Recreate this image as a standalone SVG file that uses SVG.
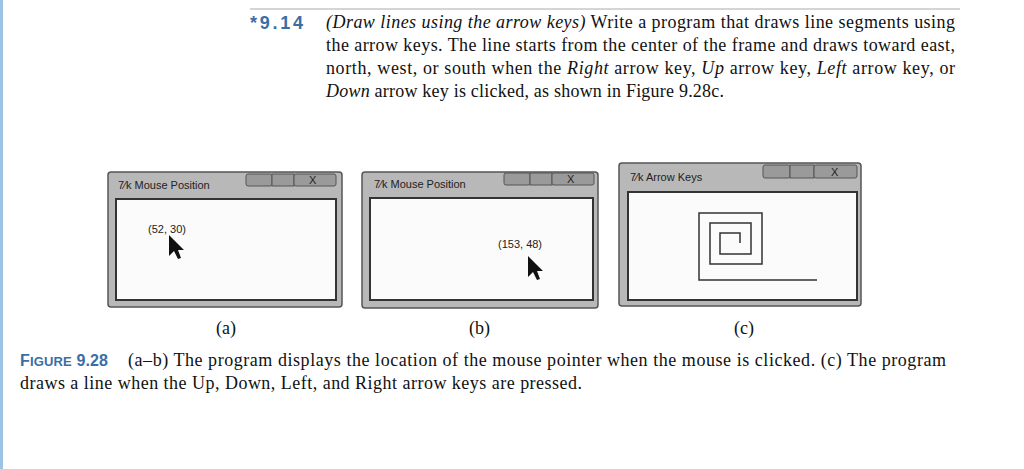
<svg xmlns="http://www.w3.org/2000/svg" width="1024" height="469" viewBox="0 0 1024 469">
<style>
.t{font-family:"Liberation Serif",serif;font-size:18px;fill:#111}
.w{font-family:"Liberation Sans",sans-serif;font-size:11px;fill:#222}
.frame{fill:#b8b8b8;stroke:#555;stroke-width:1.5}
.client{fill:#fbfbfb;stroke:#333;stroke-width:2}
.btn{fill:#9a9a9a;stroke:#555;stroke-width:1}
</style>
<defs>
<g id="cursor"><path d="M0,0 L0,21 L5,16 L9,24 L12,23 L9,15 L15,15 Z" fill="#111"/></g>
<linearGradient id="tb" x1="0" y1="0" x2="0" y2="1"><stop offset="0" stop-color="#e8e8e8"/><stop offset="1" stop-color="#a8a8a8"/></linearGradient>
</defs>
<rect width="1024" height="469" fill="#fff"/>
<rect x="0" y="0" width="3" height="469" fill="#9cc3e6"/>
<line x1="250" y1="9" x2="960" y2="9" stroke="#aaa" stroke-width="1"/>
<text x="250" y="29" font-family="Liberation Sans,sans-serif" font-weight="bold" font-size="18" fill="#3a6ea5" textLength="53">*9.14</text>
<text class="t" x="326" y="28" textLength="629"><tspan font-style="italic">(Draw lines using the arrow keys)</tspan> Write a program that draws line segments using</text>
<text class="t" x="326" y="51" textLength="629">the arrow keys. The line starts from the center of the frame and draws toward east,</text>
<text class="t" x="326" y="74" textLength="629">north, west, or south when the <tspan font-style="italic">Right</tspan> arrow key, <tspan font-style="italic">Up</tspan> arrow key, <tspan font-style="italic">Left</tspan> arrow key, or</text>
<text class="t" x="326" y="97" textLength="398"><tspan font-style="italic">Down</tspan> arrow key is clicked, as shown in Figure 9.28c.</text>

<g id="winA">
<rect class="frame" x="108" y="172" width="234" height="135" rx="3" fill="url(#tb)"/>
<rect class="client" x="116" y="199" width="220" height="101"/>
<text class="w" x="118" y="189">7⁄k Mouse Position</text>
<rect class="btn" x="246" y="174" width="26" height="12" rx="2"/><rect class="btn" x="272" y="174" width="22" height="12"/><rect class="btn" x="294" y="174" width="42" height="12" rx="2"/>
<text class="w" x="309" y="184" fill="#fff">X</text>
<text class="w" x="148" y="233" font-size="10">(52, 30)</text>
<use href="#cursor" x="169" y="235"/>
</g>
<g id="winB">
<rect class="frame" x="362" y="172" width="236" height="136" rx="3" fill="url(#tb)"/>
<rect class="client" x="370" y="198" width="223" height="102"/>
<text class="w" x="374" y="188">7⁄k Mouse Position</text>
<rect class="btn" x="504" y="173" width="26" height="12" rx="2"/><rect class="btn" x="530" y="173" width="22" height="12"/><rect class="btn" x="552" y="173" width="42" height="12" rx="2"/>
<text class="w" x="567" y="183" fill="#fff">X</text>
<text class="w" x="498" y="248" font-size="10">(153, 48)</text>
<use href="#cursor" x="528" y="256"/>
</g>
<g id="winC">
<rect class="frame" x="619" y="163" width="242" height="143" rx="3" fill="url(#tb)"/>
<rect class="client" x="628" y="192" width="229" height="108"/>
<text class="w" x="630" y="181">7⁄k Arrow Keys</text>
<rect class="btn" x="763" y="165" width="27" height="13" rx="2"/><rect class="btn" x="790" y="165" width="24" height="13"/><rect class="btn" x="814" y="165" width="43" height="13" rx="2"/>
<text class="w" x="831" y="176" fill="#fff">X</text>
<polyline points="740,243 740,233 720,233 720,254 751,254 751,223 710,223 710,264 762,264 762,213 699,213 699,280 817,280" fill="none" stroke="#333" stroke-width="1.5"/>
</g>
<text class="t" x="216" y="334" font-size="16">(a)</text>
<text class="t" x="469" y="334" font-size="16">(b)</text>
<text class="t" x="734" y="334" font-size="16">(c)</text>
<text x="20" y="366" font-family="Liberation Sans,sans-serif" font-weight="bold" fill="#3a6ea5" font-size="16" textLength="88">F<tspan font-size="13">IGURE</tspan> 9.28</text>
<text class="t" x="128" y="366" textLength="818">(a–b) The program displays the location of the mouse pointer when the mouse is clicked. (c) The program</text>
<text class="t" x="20" y="389" textLength="562">draws a line when the Up, Down, Left, and Right arrow keys are pressed.</text>
</svg>
